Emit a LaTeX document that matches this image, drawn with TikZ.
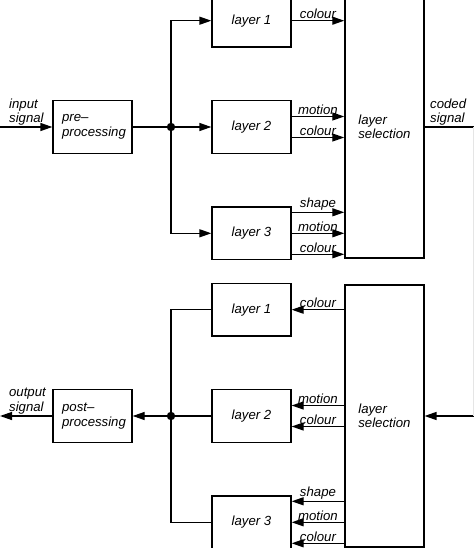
\documentclass[tikz,border=0pt]{standalone}
\usepackage{fontspec}
\setmainfont{Liberation Sans}
\usetikzlibrary{arrows.meta,positioning}

\tikzset{
  blk/.style = {draw, minimum width=79pt, minimum height=52.6pt, inner sep=0pt,
                align=left, font=\fontsize{13.2}{14.5}\selectfont\itshape},
  txt/.style = {inner sep=0pt, align=left, font=\fontsize{13.2}{14.5}\selectfont\itshape},
  lbl/.style = {above, inner sep=1.5pt, font=\fontsize{13.2}{14.5}\selectfont\itshape},
  sig/.style = {-{Triangle[length=12pt,width=8pt]}},
}

\begin{document}
\begin{tikzpicture}[x=1pt, y=-1pt, line width=1.3pt]
    \useasboundingbox (0,0) rectangle (474,548);
    \clip (0,0) rectangle (474,548);

    % coding half
    \node[blk] (pre) at (92.5,127) {\hspace{3pt}pre–\\\hspace{3pt}processing};
    \node[blk, right=78.7pt of pre] (l2) {layer 2};
    \node[blk, above=52.4pt of l2] (l1) {layer 1};
    \node[blk, below=52.4pt of l2] (l3) {layer 3};
    \node[blk, minimum height=262pt, right=52.6pt of l2] (sel) {layer\\selection};
    \coordinate (in) at (0,127);
    \coordinate (j1) at (171,127);
    \coordinate (cs1) at (473.5,127);
    \node[txt, anchor=west] (inlbl) at (8.5,112) {input\\signal};
    \node[txt, anchor=west] (cslbl) at (429.5,112) {coded\\signal};

    \draw[sig] (in) -- (pre);
    \draw (pre) -- (j1);
    \draw[sig] (j1) |- (l1);
    \draw[sig] (j1) -- (l2);
    \draw[sig] (j1) |- (l3);
    \fill (j1) circle (4.2pt);
    \draw[sig] (l1) -- node[lbl] {colour} (l1 -| sel.west);
    \draw[sig] ([yshift=10.5pt]l2.east) -- node[lbl] {motion} ([yshift=10.5pt]l2.east -| sel.west);
    \draw[sig] ([yshift=-10.5pt]l2.east) -- node[lbl] {colour} ([yshift=-10.5pt]l2.east -| sel.west);
    \draw[sig] ([yshift=21pt]l3.east) -- node[lbl] {shape} ([yshift=21pt]l3.east -| sel.west);
    \draw[sig] (l3) -- node[lbl] {motion} (l3 -| sel.west);
    \draw[sig] ([yshift=-21pt]l3.east) -- node[lbl] {colour} ([yshift=-21pt]l3.east -| sel.west);
    \draw (sel) -- (cs1);

    % decoding half
    \node[blk] (post) at (92.5,416) {\hspace{3pt}post–\\\hspace{3pt}processing};
    \node[blk, right=78.7pt of post] (m2) {layer 2};
    \node[blk, above=52.4pt of m2] (m1) {layer 1};
    \node[blk, below=52.4pt of m2] (m3) {layer 3};
    \node[blk, minimum height=262pt, right=52.6pt of m2] (desel) {layer\\selection};
    \coordinate (out) at (0,416);
    \coordinate (j2) at (171,416);
    \coordinate (cs2) at (473.5,416);
    \node[txt, anchor=west] (outlbl) at (8.5,401) {output\\signal};

    \draw[sig] (cs2) -- (desel);
    \draw[sig] (m1 -| desel.west) -- node[lbl] {colour} (m1);
    \draw[sig] ([yshift=10.5pt]m2.east -| desel.west) -- node[lbl] {motion} ([yshift=10.5pt]m2.east);
    \draw[sig] ([yshift=-10.5pt]m2.east -| desel.west) -- node[lbl] {colour} ([yshift=-10.5pt]m2.east);
    \draw[sig] ([yshift=21pt]m3.east -| desel.west) -- node[lbl] {shape} ([yshift=21pt]m3.east);
    \draw[sig] (m3 -| desel.west) -- node[lbl] {motion} (m3);
    \draw[sig] ([yshift=-21pt]m3.east -| desel.west) -- node[lbl] {colour} ([yshift=-21pt]m3.east);
    \draw (j2) |- (m1);
    \draw (j2) -- (m2);
    \draw (j2) |- (m3);
    \fill (j2) circle (4.2pt);
    \draw[sig] (j2) -- (post);
    \draw[sig] (post) -- (out);

    \draw[gray!20, line width=1pt] (cs1) -- (cs2);
\end{tikzpicture}
\end{document}
